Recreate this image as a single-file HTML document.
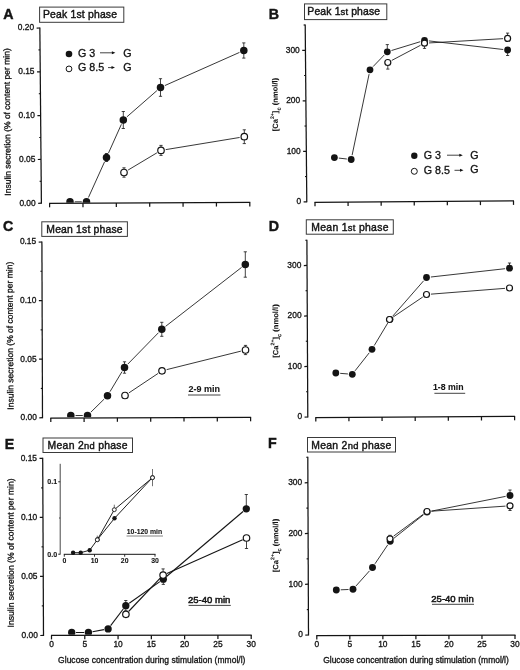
<!DOCTYPE html>
<html><head><meta charset="utf-8"><title>Figure</title>
<style>
html,body{margin:0;padding:0;background:#fff;}
svg{display:block;filter:blur(0.3px);font-family:"Liberation Sans",sans-serif;fill:#141414;}
text{stroke:#141414;stroke-width:0.32px;}
text.b{stroke-width:0.08px;}
text.sb{stroke-width:0.5px;}
text.L{stroke-width:0.45px;}
text.T{stroke-width:0.42px;}
tspan.sb2{stroke-width:0.45px;}
</style></head><body>
<svg width="520" height="670" viewBox="0 0 520 670">
<rect width="520" height="670" fill="#fff"/>
<defs><clipPath id="ca"><rect x="40" y="0" width="220" height="202.7"/></clipPath><clipPath id="cc"><rect x="40" y="215" width="220" height="202.3"/></clipPath><clipPath id="ce"><rect x="40" y="430" width="220" height="204.8"/></clipPath></defs>
<text transform="translate(3.20,18.70) scale(0.93,1)" font-size="15.3" font-weight="bold" class="L">A</text>
<rect x="39.60" y="7.10" width="84.20" height="15.20" fill="#fff" stroke="#3a3a3a" stroke-width="1"/>
<text x="43.00" y="18.30" font-size="10.4" class="T" textLength="74.0" lengthAdjust="spacing">Peak 1<tspan font-size="10.4">st</tspan> phase</text>
<line x1="39.85" y1="27.50" x2="41.40" y2="203.70" stroke="#141414" stroke-width="1.25"/>
<line x1="38.20" y1="203.30" x2="41.40" y2="203.20" stroke="#141414" stroke-width="1.25"/>
<text x="35.70" y="205.60" font-size="8.4" text-anchor="end" font-weight="normal" >0.00</text>
<line x1="39.61" y1="181.30" x2="41.21" y2="181.30" stroke="#141414" stroke-width="1.125"/>
<line x1="37.81" y1="159.50" x2="41.01" y2="159.40" stroke="#141414" stroke-width="1.25"/>
<text x="35.31" y="161.80" font-size="8.4" text-anchor="end" font-weight="normal" >0.05</text>
<line x1="39.22" y1="137.50" x2="40.82" y2="137.50" stroke="#141414" stroke-width="1.125"/>
<line x1="37.42" y1="115.70" x2="40.62" y2="115.60" stroke="#141414" stroke-width="1.25"/>
<text x="34.92" y="118.00" font-size="8.4" text-anchor="end" font-weight="normal" >0.10</text>
<line x1="38.83" y1="93.70" x2="40.43" y2="93.70" stroke="#141414" stroke-width="1.125"/>
<line x1="37.04" y1="71.90" x2="40.24" y2="71.80" stroke="#141414" stroke-width="1.25"/>
<text x="34.54" y="74.20" font-size="8.4" text-anchor="end" font-weight="normal" >0.15</text>
<line x1="38.44" y1="49.90" x2="40.04" y2="49.90" stroke="#141414" stroke-width="1.125"/>
<line x1="36.65" y1="28.10" x2="39.85" y2="28.00" stroke="#141414" stroke-width="1.25"/>
<text x="34.15" y="30.40" font-size="8.4" text-anchor="end" font-weight="normal" >0.20</text>
<line x1="49.10" y1="203.30" x2="250.30" y2="202.40" stroke="#141414" stroke-width="1.25"/>
<line x1="49.60" y1="203.30" x2="49.60" y2="207.30" stroke="#141414" stroke-width="1.25"/>
<line x1="82.97" y1="203.15" x2="82.97" y2="207.15" stroke="#141414" stroke-width="1.25"/>
<line x1="116.33" y1="203.00" x2="116.33" y2="207.00" stroke="#141414" stroke-width="1.25"/>
<line x1="149.70" y1="202.85" x2="149.70" y2="206.85" stroke="#141414" stroke-width="1.25"/>
<line x1="183.07" y1="202.70" x2="183.07" y2="206.70" stroke="#141414" stroke-width="1.25"/>
<line x1="216.43" y1="202.55" x2="216.43" y2="206.55" stroke="#141414" stroke-width="1.25"/>
<line x1="249.80" y1="202.40" x2="249.80" y2="206.40" stroke="#141414" stroke-width="1.25"/>
<text transform="translate(10.10,121.95) rotate(-90.56)" font-size="8.5" text-anchor="middle">Insulin secretion (% of content per min)</text>
<g clip-path="url(#ca)">
<line x1="74.75" y1="201.80" x2="81.75" y2="201.80" stroke="#141414" stroke-width="0.85"/>
<line x1="88.45" y1="197.47" x2="104.55" y2="161.83" stroke="#141414" stroke-width="0.85"/>
<line x1="108.44" y1="153.17" x2="121.36" y2="124.33" stroke="#141414" stroke-width="0.85"/>
<line x1="126.88" y1="116.87" x2="156.92" y2="90.63" stroke="#141414" stroke-width="0.85"/>
<line x1="164.84" y1="85.57" x2="239.46" y2="52.43" stroke="#141414" stroke-width="0.85"/>
<line x1="106.50" y1="153.50" x2="106.50" y2="161.50" stroke="#141414" stroke-width="0.8"/>
<line x1="104.90" y1="153.50" x2="108.10" y2="153.50" stroke="#141414" stroke-width="0.8"/>
<line x1="104.90" y1="161.50" x2="108.10" y2="161.50" stroke="#141414" stroke-width="0.8"/>
<line x1="123.30" y1="111.50" x2="123.30" y2="128.50" stroke="#141414" stroke-width="0.8"/>
<line x1="121.70" y1="111.50" x2="124.90" y2="111.50" stroke="#141414" stroke-width="0.8"/>
<line x1="121.70" y1="128.50" x2="124.90" y2="128.50" stroke="#141414" stroke-width="0.8"/>
<line x1="160.50" y1="78.70" x2="160.50" y2="96.30" stroke="#141414" stroke-width="0.8"/>
<line x1="158.90" y1="78.70" x2="162.10" y2="78.70" stroke="#141414" stroke-width="0.8"/>
<line x1="158.90" y1="96.30" x2="162.10" y2="96.30" stroke="#141414" stroke-width="0.8"/>
<line x1="243.80" y1="42.90" x2="243.80" y2="58.10" stroke="#141414" stroke-width="0.8"/>
<line x1="242.20" y1="42.90" x2="245.40" y2="42.90" stroke="#141414" stroke-width="0.8"/>
<line x1="242.20" y1="58.10" x2="245.40" y2="58.10" stroke="#141414" stroke-width="0.8"/>
<circle cx="70.00" cy="201.80" r="3.75" fill="#141414"/>
<circle cx="86.50" cy="201.80" r="3.75" fill="#141414"/>
<circle cx="106.50" cy="157.50" r="3.75" fill="#141414"/>
<circle cx="123.30" cy="120.00" r="3.75" fill="#141414"/>
<circle cx="160.50" cy="87.50" r="3.75" fill="#141414"/>
<circle cx="243.80" cy="50.50" r="3.75" fill="#141414"/>
</g>
<line x1="128.08" y1="170.06" x2="156.92" y2="152.84" stroke="#141414" stroke-width="0.85"/>
<line x1="165.69" y1="149.63" x2="239.61" y2="137.47" stroke="#141414" stroke-width="0.85"/>
<line x1="124.00" y1="167.80" x2="124.00" y2="177.20" stroke="#141414" stroke-width="0.8"/>
<line x1="122.40" y1="167.80" x2="125.60" y2="167.80" stroke="#141414" stroke-width="0.8"/>
<line x1="122.40" y1="177.20" x2="125.60" y2="177.20" stroke="#141414" stroke-width="0.8"/>
<line x1="161.00" y1="145.40" x2="161.00" y2="155.40" stroke="#141414" stroke-width="0.8"/>
<line x1="159.40" y1="145.40" x2="162.60" y2="145.40" stroke="#141414" stroke-width="0.8"/>
<line x1="159.40" y1="155.40" x2="162.60" y2="155.40" stroke="#141414" stroke-width="0.8"/>
<line x1="244.30" y1="129.80" x2="244.30" y2="143.60" stroke="#141414" stroke-width="0.8"/>
<line x1="242.70" y1="129.80" x2="245.90" y2="129.80" stroke="#141414" stroke-width="0.8"/>
<line x1="242.70" y1="143.60" x2="245.90" y2="143.60" stroke="#141414" stroke-width="0.8"/>
<circle cx="124.00" cy="172.50" r="3.25" fill="#fff" stroke="#141414" stroke-width="1.2"/>
<circle cx="161.00" cy="150.40" r="3.25" fill="#fff" stroke="#141414" stroke-width="1.2"/>
<circle cx="244.30" cy="136.70" r="3.25" fill="#fff" stroke="#141414" stroke-width="1.2"/>
<circle cx="69" cy="54.0" r="3.3" fill="#141414"/>
<text x="78.00" y="57.20" font-size="10.7" text-anchor="start" font-weight="normal" >G 3</text>
<line x1="100.00" y1="52.80" x2="113.40" y2="52.80" stroke="#141414" stroke-width="0.8"/>
<polygon points="115.40,52.80 111.90,51.30 111.90,54.30" fill="#141414"/>
<text x="123.20" y="56.80" font-size="10.7" text-anchor="start" font-weight="normal" >G</text>
<circle cx="69" cy="68.9" r="2.9" fill="#fff" stroke="#141414" stroke-width="1"/>
<text x="78.00" y="71.30" font-size="10.7" text-anchor="start" font-weight="normal" >G 8.5</text>
<line x1="108.00" y1="67.60" x2="113.00" y2="67.60" stroke="#141414" stroke-width="0.8"/>
<polygon points="115.00,67.60 111.50,66.10 111.50,69.10" fill="#141414"/>
<text x="123.20" y="71.00" font-size="10.7" text-anchor="start" font-weight="normal" >G</text>
<text transform="translate(268.70,18.80) scale(0.93,1)" font-size="15.3" font-weight="bold" class="L">B</text>
<rect x="304.50" y="3.90" width="82.30" height="15.70" fill="#fff" stroke="#3a3a3a" stroke-width="1"/>
<text x="307.30" y="15.40" font-size="10.4" class="T" textLength="72.8" lengthAdjust="spacing">Peak 1<tspan font-size="9.4">st</tspan> phase</text>
<line x1="305.20" y1="24.50" x2="306.80" y2="202.30" stroke="#141414" stroke-width="1.25"/>
<line x1="303.60" y1="201.90" x2="306.80" y2="201.80" stroke="#141414" stroke-width="1.25"/>
<text x="301.10" y="204.20" font-size="8.4" text-anchor="end" font-weight="normal" >0</text>
<line x1="304.97" y1="176.54" x2="306.57" y2="176.54" stroke="#141414" stroke-width="1.125"/>
<line x1="303.14" y1="151.39" x2="306.34" y2="151.29" stroke="#141414" stroke-width="1.25"/>
<text x="300.64" y="153.69" font-size="8.4" text-anchor="end" font-weight="normal" >100</text>
<line x1="304.51" y1="126.03" x2="306.11" y2="126.03" stroke="#141414" stroke-width="1.125"/>
<line x1="302.69" y1="100.87" x2="305.89" y2="100.77" stroke="#141414" stroke-width="1.25"/>
<text x="300.19" y="103.17" font-size="8.4" text-anchor="end" font-weight="normal" >200</text>
<line x1="304.06" y1="75.51" x2="305.66" y2="75.51" stroke="#141414" stroke-width="1.125"/>
<line x1="302.23" y1="50.36" x2="305.43" y2="50.26" stroke="#141414" stroke-width="1.25"/>
<text x="299.73" y="52.66" font-size="8.4" text-anchor="end" font-weight="normal" >300</text>
<line x1="303.60" y1="25.00" x2="305.20" y2="25.00" stroke="#141414" stroke-width="1.125"/>
<line x1="314.50" y1="202.30" x2="514.00" y2="200.90" stroke="#141414" stroke-width="1.25"/>
<line x1="315.00" y1="202.30" x2="315.00" y2="206.30" stroke="#141414" stroke-width="1.25"/>
<line x1="348.08" y1="202.07" x2="348.08" y2="206.07" stroke="#141414" stroke-width="1.25"/>
<line x1="381.17" y1="201.83" x2="381.17" y2="205.83" stroke="#141414" stroke-width="1.25"/>
<line x1="414.25" y1="201.60" x2="414.25" y2="205.60" stroke="#141414" stroke-width="1.25"/>
<line x1="447.33" y1="201.37" x2="447.33" y2="205.37" stroke="#141414" stroke-width="1.25"/>
<line x1="480.42" y1="201.13" x2="480.42" y2="205.13" stroke="#141414" stroke-width="1.25"/>
<line x1="513.50" y1="200.90" x2="513.50" y2="204.90" stroke="#141414" stroke-width="1.25"/>
<text transform="translate(277.70,104.60) rotate(-90.5)" font-size="7.6" text-anchor="middle" font-weight="bold" class="b">[Ca<tspan font-size="5.2" dy="-3.9">2+</tspan><tspan dy="3.9">]</tspan><tspan font-size="5.8" dy="3.0">c</tspan><tspan dy="-3.0"> (nmol/l)</tspan></text>
<line x1="338.77" y1="158.09" x2="346.83" y2="159.01" stroke="#141414" stroke-width="0.85"/>
<line x1="352.10" y1="155.19" x2="369.10" y2="74.11" stroke="#141414" stroke-width="0.85"/>
<line x1="373.05" y1="66.63" x2="384.25" y2="54.97" stroke="#141414" stroke-width="0.85"/>
<line x1="391.51" y1="50.51" x2="420.29" y2="41.69" stroke="#141414" stroke-width="0.85"/>
<line x1="428.87" y1="40.90" x2="503.23" y2="49.50" stroke="#141414" stroke-width="0.85"/>
<line x1="387.30" y1="44.60" x2="387.30" y2="51.80" stroke="#141414" stroke-width="0.8"/>
<line x1="385.70" y1="44.60" x2="388.90" y2="44.60" stroke="#141414" stroke-width="0.8"/>
<line x1="507.60" y1="50.00" x2="507.60" y2="55.50" stroke="#141414" stroke-width="0.8"/>
<line x1="506.00" y1="55.50" x2="509.20" y2="55.50" stroke="#141414" stroke-width="0.8"/>
<circle cx="334.40" cy="157.60" r="3.4" fill="#141414"/>
<circle cx="351.20" cy="159.50" r="3.4" fill="#141414"/>
<circle cx="370.00" cy="69.80" r="3.4" fill="#141414"/>
<circle cx="387.30" cy="51.80" r="3.4" fill="#141414"/>
<circle cx="424.50" cy="40.40" r="3.4" fill="#141414"/>
<circle cx="507.60" cy="50.00" r="3.4" fill="#141414"/>
<line x1="391.78" y1="60.41" x2="420.52" y2="45.29" stroke="#141414" stroke-width="0.85"/>
<line x1="428.99" y1="42.94" x2="503.11" y2="38.66" stroke="#141414" stroke-width="0.85"/>
<line x1="387.80" y1="62.50" x2="387.80" y2="69.10" stroke="#141414" stroke-width="0.8"/>
<line x1="386.20" y1="69.10" x2="389.40" y2="69.10" stroke="#141414" stroke-width="0.8"/>
<line x1="424.50" y1="43.20" x2="424.50" y2="48.40" stroke="#141414" stroke-width="0.8"/>
<line x1="422.90" y1="48.40" x2="426.10" y2="48.40" stroke="#141414" stroke-width="0.8"/>
<line x1="507.60" y1="33.10" x2="507.60" y2="38.40" stroke="#141414" stroke-width="0.8"/>
<line x1="506.00" y1="33.10" x2="509.20" y2="33.10" stroke="#141414" stroke-width="0.8"/>
<circle cx="387.80" cy="62.50" r="3.0" fill="#fff" stroke="#141414" stroke-width="1.2"/>
<circle cx="424.50" cy="43.20" r="3.0" fill="#fff" stroke="#141414" stroke-width="1.2"/>
<circle cx="507.60" cy="38.40" r="3.0" fill="#fff" stroke="#141414" stroke-width="1.2"/>
<circle cx="414.3" cy="155.8" r="3.2" fill="#141414"/>
<text x="423.80" y="158.90" font-size="10.7" text-anchor="start" font-weight="normal" >G 3</text>
<line x1="447.00" y1="155.20" x2="460.80" y2="155.20" stroke="#141414" stroke-width="0.8"/>
<polygon points="462.80,155.20 459.30,153.70 459.30,156.70" fill="#141414"/>
<text x="470.20" y="158.60" font-size="10.7" text-anchor="start" font-weight="normal" >G</text>
<circle cx="414.3" cy="171.3" r="3.0" fill="#fff" stroke="#141414" stroke-width="1"/>
<text x="423.80" y="173.70" font-size="10.7" text-anchor="start" font-weight="normal" >G 8.5</text>
<line x1="454.50" y1="170.30" x2="461.50" y2="170.30" stroke="#141414" stroke-width="0.8"/>
<polygon points="463.50,170.30 460.00,168.80 460.00,171.80" fill="#141414"/>
<text x="470.20" y="173.40" font-size="10.7" text-anchor="start" font-weight="normal" >G</text>
<text transform="translate(3.10,231.20) scale(0.93,1)" font-size="15.3" font-weight="bold" class="L">C</text>
<rect x="41.80" y="221.80" width="85.60" height="14.60" fill="#fff" stroke="#3a3a3a" stroke-width="1"/>
<text x="46.30" y="233.20" font-size="10.4" class="T" textLength="76.3" lengthAdjust="spacing">Mean 1<tspan font-size="10.4">st</tspan> phase</text>
<line x1="41.90" y1="241.50" x2="42.50" y2="418.20" stroke="#141414" stroke-width="1.25"/>
<line x1="39.30" y1="417.80" x2="42.50" y2="417.70" stroke="#141414" stroke-width="1.25"/>
<text x="36.80" y="420.10" font-size="8.4" text-anchor="end" font-weight="normal" >0.00</text>
<line x1="40.80" y1="388.42" x2="42.40" y2="388.42" stroke="#141414" stroke-width="1.125"/>
<line x1="39.10" y1="359.23" x2="42.30" y2="359.13" stroke="#141414" stroke-width="1.25"/>
<text x="36.60" y="361.53" font-size="8.4" text-anchor="end" font-weight="normal" >0.05</text>
<line x1="40.60" y1="329.85" x2="42.20" y2="329.85" stroke="#141414" stroke-width="1.125"/>
<line x1="38.90" y1="300.67" x2="42.10" y2="300.57" stroke="#141414" stroke-width="1.25"/>
<text x="36.40" y="302.97" font-size="8.4" text-anchor="end" font-weight="normal" >0.10</text>
<line x1="40.40" y1="271.28" x2="42.00" y2="271.28" stroke="#141414" stroke-width="1.125"/>
<line x1="38.70" y1="242.10" x2="41.90" y2="242.00" stroke="#141414" stroke-width="1.25"/>
<text x="36.20" y="244.40" font-size="8.4" text-anchor="end" font-weight="normal" >0.15</text>
<line x1="50.30" y1="418.00" x2="251.10" y2="417.30" stroke="#141414" stroke-width="1.25"/>
<line x1="50.80" y1="418.00" x2="50.80" y2="422.00" stroke="#141414" stroke-width="1.25"/>
<line x1="84.10" y1="417.88" x2="84.10" y2="421.88" stroke="#141414" stroke-width="1.25"/>
<line x1="117.40" y1="417.77" x2="117.40" y2="421.77" stroke="#141414" stroke-width="1.25"/>
<line x1="150.70" y1="417.65" x2="150.70" y2="421.65" stroke="#141414" stroke-width="1.25"/>
<line x1="184.00" y1="417.53" x2="184.00" y2="421.53" stroke="#141414" stroke-width="1.25"/>
<line x1="217.30" y1="417.42" x2="217.30" y2="421.42" stroke="#141414" stroke-width="1.25"/>
<line x1="250.60" y1="417.30" x2="250.60" y2="421.30" stroke="#141414" stroke-width="1.25"/>
<text transform="translate(12.90,335.75) rotate(-90.46)" font-size="8.54" text-anchor="middle">Insulin secretion (% of content per min)</text>
<g clip-path="url(#cc)">
<line x1="75.55" y1="415.50" x2="82.75" y2="415.50" stroke="#141414" stroke-width="0.85"/>
<line x1="90.88" y1="412.17" x2="104.12" y2="399.13" stroke="#141414" stroke-width="0.85"/>
<line x1="109.95" y1="391.73" x2="122.05" y2="371.57" stroke="#141414" stroke-width="0.85"/>
<line x1="127.82" y1="364.10" x2="158.48" y2="332.70" stroke="#141414" stroke-width="0.85"/>
<line x1="165.55" y1="326.39" x2="241.55" y2="267.41" stroke="#141414" stroke-width="0.85"/>
<line x1="124.50" y1="361.80" x2="124.50" y2="373.20" stroke="#141414" stroke-width="0.8"/>
<line x1="122.90" y1="361.80" x2="126.10" y2="361.80" stroke="#141414" stroke-width="0.8"/>
<line x1="122.90" y1="373.20" x2="126.10" y2="373.20" stroke="#141414" stroke-width="0.8"/>
<line x1="161.80" y1="322.30" x2="161.80" y2="336.30" stroke="#141414" stroke-width="0.8"/>
<line x1="160.20" y1="322.30" x2="163.40" y2="322.30" stroke="#141414" stroke-width="0.8"/>
<line x1="160.20" y1="336.30" x2="163.40" y2="336.30" stroke="#141414" stroke-width="0.8"/>
<line x1="245.30" y1="251.80" x2="245.30" y2="277.20" stroke="#141414" stroke-width="0.8"/>
<line x1="243.70" y1="251.80" x2="246.90" y2="251.80" stroke="#141414" stroke-width="0.8"/>
<line x1="243.70" y1="277.20" x2="246.90" y2="277.20" stroke="#141414" stroke-width="0.8"/>
<circle cx="70.80" cy="415.50" r="3.75" fill="#141414"/>
<circle cx="87.50" cy="415.50" r="3.75" fill="#141414"/>
<circle cx="107.50" cy="395.80" r="3.75" fill="#141414"/>
<circle cx="124.50" cy="367.50" r="3.75" fill="#141414"/>
<circle cx="161.80" cy="329.30" r="3.75" fill="#141414"/>
<circle cx="245.30" cy="264.50" r="3.75" fill="#141414"/>
</g>
<line x1="128.95" y1="392.86" x2="158.05" y2="373.44" stroke="#141414" stroke-width="0.85"/>
<line x1="166.61" y1="369.65" x2="240.89" y2="351.15" stroke="#141414" stroke-width="0.85"/>
<line x1="245.50" y1="345.40" x2="245.50" y2="354.60" stroke="#141414" stroke-width="0.8"/>
<line x1="243.90" y1="345.40" x2="247.10" y2="345.40" stroke="#141414" stroke-width="0.8"/>
<line x1="243.90" y1="354.60" x2="247.10" y2="354.60" stroke="#141414" stroke-width="0.8"/>
<circle cx="125.00" cy="395.50" r="3.25" fill="#fff" stroke="#141414" stroke-width="1.2"/>
<circle cx="162.00" cy="370.80" r="3.25" fill="#fff" stroke="#141414" stroke-width="1.2"/>
<circle cx="245.50" cy="350.00" r="3.25" fill="#fff" stroke="#141414" stroke-width="1.2"/>
<text x="204.25" y="392.00" font-size="9" text-anchor="middle" font-weight="bold" class="b" textLength="31.5" lengthAdjust="spacingAndGlyphs" >2-9 min</text>
<line x1="188.00" y1="395.00" x2="220.50" y2="395.00" stroke="#141414" stroke-width="0.8"/>
<text transform="translate(268.70,230.90) scale(0.93,1)" font-size="15.3" font-weight="bold" class="L">D</text>
<rect x="306.30" y="219.80" width="87.00" height="14.40" fill="#fff" stroke="#3a3a3a" stroke-width="1"/>
<text x="311.30" y="230.60" font-size="10.4" class="T" textLength="77.2" lengthAdjust="spacing">Mean 1<tspan font-size="9.4">st</tspan> phase</text>
<line x1="306.90" y1="239.70" x2="307.80" y2="417.50" stroke="#141414" stroke-width="1.25"/>
<line x1="304.60" y1="417.10" x2="307.80" y2="417.00" stroke="#141414" stroke-width="1.25"/>
<text x="302.10" y="419.40" font-size="8.4" text-anchor="end" font-weight="normal" >0</text>
<line x1="306.07" y1="391.74" x2="307.67" y2="391.74" stroke="#141414" stroke-width="1.125"/>
<line x1="304.34" y1="366.59" x2="307.54" y2="366.49" stroke="#141414" stroke-width="1.25"/>
<text x="301.84" y="368.89" font-size="8.4" text-anchor="end" font-weight="normal" >100</text>
<line x1="305.81" y1="341.23" x2="307.41" y2="341.23" stroke="#141414" stroke-width="1.125"/>
<line x1="304.09" y1="316.07" x2="307.29" y2="315.97" stroke="#141414" stroke-width="1.25"/>
<text x="301.59" y="318.37" font-size="8.4" text-anchor="end" font-weight="normal" >200</text>
<line x1="305.56" y1="290.71" x2="307.16" y2="290.71" stroke="#141414" stroke-width="1.125"/>
<line x1="303.83" y1="265.56" x2="307.03" y2="265.46" stroke="#141414" stroke-width="1.25"/>
<text x="301.33" y="267.86" font-size="8.4" text-anchor="end" font-weight="normal" >300</text>
<line x1="305.30" y1="240.20" x2="306.90" y2="240.20" stroke="#141414" stroke-width="1.125"/>
<line x1="315.30" y1="417.50" x2="515.10" y2="416.30" stroke="#141414" stroke-width="1.25"/>
<line x1="315.80" y1="417.50" x2="315.80" y2="421.50" stroke="#141414" stroke-width="1.25"/>
<line x1="348.93" y1="417.30" x2="348.93" y2="421.30" stroke="#141414" stroke-width="1.25"/>
<line x1="382.07" y1="417.10" x2="382.07" y2="421.10" stroke="#141414" stroke-width="1.25"/>
<line x1="415.20" y1="416.90" x2="415.20" y2="420.90" stroke="#141414" stroke-width="1.25"/>
<line x1="448.33" y1="416.70" x2="448.33" y2="420.70" stroke="#141414" stroke-width="1.25"/>
<line x1="481.47" y1="416.50" x2="481.47" y2="420.50" stroke="#141414" stroke-width="1.25"/>
<line x1="514.60" y1="416.30" x2="514.60" y2="420.30" stroke="#141414" stroke-width="1.25"/>
<text transform="translate(278.20,331.00) rotate(-90.25)" font-size="7.6" text-anchor="middle" font-weight="bold" class="b">[Ca<tspan font-size="5.2" dy="-3.9">2+</tspan><tspan dy="3.9">]</tspan><tspan font-size="5.8" dy="3.0">c</tspan><tspan dy="-3.0"> (nmol/l)</tspan></text>
<line x1="340.19" y1="373.35" x2="347.91" y2="373.95" stroke="#141414" stroke-width="0.85"/>
<line x1="355.02" y1="370.84" x2="369.28" y2="352.76" stroke="#141414" stroke-width="0.85"/>
<line x1="374.26" y1="345.53" x2="387.74" y2="323.07" stroke="#141414" stroke-width="0.85"/>
<line x1="392.89" y1="315.99" x2="423.61" y2="280.81" stroke="#141414" stroke-width="0.85"/>
<line x1="430.87" y1="277.01" x2="505.13" y2="268.69" stroke="#141414" stroke-width="0.85"/>
<line x1="509.50" y1="263.00" x2="509.50" y2="268.20" stroke="#141414" stroke-width="0.8"/>
<line x1="507.90" y1="263.00" x2="511.10" y2="263.00" stroke="#141414" stroke-width="0.8"/>
<circle cx="335.80" cy="373.00" r="3.4" fill="#141414"/>
<circle cx="352.30" cy="374.30" r="3.4" fill="#141414"/>
<circle cx="372.00" cy="349.30" r="3.4" fill="#141414"/>
<circle cx="390.00" cy="319.30" r="3.4" fill="#141414"/>
<circle cx="426.50" cy="277.50" r="3.4" fill="#141414"/>
<circle cx="509.50" cy="268.20" r="3.4" fill="#141414"/>
<line x1="393.23" y1="316.98" x2="422.77" y2="297.02" stroke="#141414" stroke-width="0.85"/>
<line x1="430.99" y1="294.15" x2="505.01" y2="288.35" stroke="#141414" stroke-width="0.85"/>
<circle cx="389.50" cy="319.50" r="3.0" fill="#fff" stroke="#141414" stroke-width="1.2"/>
<circle cx="426.50" cy="294.50" r="3.0" fill="#fff" stroke="#141414" stroke-width="1.2"/>
<circle cx="509.50" cy="288.00" r="3.0" fill="#fff" stroke="#141414" stroke-width="1.2"/>
<text x="448.30" y="390.40" font-size="9" text-anchor="middle" font-weight="bold" class="b" textLength="30.6" lengthAdjust="spacingAndGlyphs" >1-8 min</text>
<line x1="434.40" y1="393.30" x2="465.20" y2="393.30" stroke="#141414" stroke-width="0.8"/>
<text transform="translate(4.80,448.70) scale(0.93,1)" font-size="15.3" font-weight="bold" class="L">E</text>
<rect x="43.00" y="438.00" width="89.50" height="14.50" fill="#fff" stroke="#3a3a3a" stroke-width="1"/>
<text x="47.60" y="449.30" font-size="10.4" class="T" textLength="80" lengthAdjust="spacing">Mean 2<tspan font-size="9.4">nd</tspan> phase</text>
<line x1="42.70" y1="457.80" x2="43.50" y2="635.90" stroke="#141414" stroke-width="1.25"/>
<line x1="40.30" y1="635.50" x2="43.50" y2="635.40" stroke="#141414" stroke-width="1.25"/>
<text x="37.80" y="637.80" font-size="8.4" text-anchor="end" font-weight="normal" >0.00</text>
<line x1="41.77" y1="605.88" x2="43.37" y2="605.88" stroke="#141414" stroke-width="1.125"/>
<line x1="40.03" y1="576.47" x2="43.23" y2="576.37" stroke="#141414" stroke-width="1.25"/>
<text x="37.53" y="578.77" font-size="8.4" text-anchor="end" font-weight="normal" >0.05</text>
<line x1="41.50" y1="546.85" x2="43.10" y2="546.85" stroke="#141414" stroke-width="1.125"/>
<line x1="39.77" y1="517.43" x2="42.97" y2="517.33" stroke="#141414" stroke-width="1.25"/>
<text x="37.27" y="519.73" font-size="8.4" text-anchor="end" font-weight="normal" >0.10</text>
<line x1="41.23" y1="487.82" x2="42.83" y2="487.82" stroke="#141414" stroke-width="1.125"/>
<line x1="39.50" y1="458.40" x2="42.70" y2="458.30" stroke="#141414" stroke-width="1.25"/>
<text x="37.00" y="460.70" font-size="8.4" text-anchor="end" font-weight="normal" >0.15</text>
<line x1="51.00" y1="635.40" x2="251.70" y2="635.00" stroke="#141414" stroke-width="1.25"/>
<line x1="51.50" y1="635.40" x2="51.50" y2="639.40" stroke="#141414" stroke-width="1.25"/>
<text x="51.50" y="647.40" font-size="8.4" text-anchor="middle" font-weight="normal" >0</text>
<line x1="84.78" y1="635.33" x2="84.78" y2="639.33" stroke="#141414" stroke-width="1.25"/>
<text x="84.78" y="647.40" font-size="8.4" text-anchor="middle" font-weight="normal" >5</text>
<line x1="118.07" y1="635.27" x2="118.07" y2="639.27" stroke="#141414" stroke-width="1.25"/>
<text x="118.07" y="647.40" font-size="8.4" text-anchor="middle" font-weight="normal" >10</text>
<line x1="151.35" y1="635.20" x2="151.35" y2="639.20" stroke="#141414" stroke-width="1.25"/>
<text x="151.35" y="647.40" font-size="8.4" text-anchor="middle" font-weight="normal" >15</text>
<line x1="184.63" y1="635.13" x2="184.63" y2="639.13" stroke="#141414" stroke-width="1.25"/>
<text x="184.63" y="647.40" font-size="8.4" text-anchor="middle" font-weight="normal" >20</text>
<line x1="217.92" y1="635.07" x2="217.92" y2="639.07" stroke="#141414" stroke-width="1.25"/>
<text x="217.92" y="647.40" font-size="8.4" text-anchor="middle" font-weight="normal" >25</text>
<line x1="251.20" y1="635.00" x2="251.20" y2="639.00" stroke="#141414" stroke-width="1.25"/>
<text x="251.20" y="647.40" font-size="8.4" text-anchor="middle" font-weight="normal" >30</text>
<text transform="translate(13.65,552.90) rotate(-90.12)" font-size="8.6" text-anchor="middle">Insulin secretion (% of content per min)</text>
<text x="151.75" y="662.80" font-size="8.5" text-anchor="middle" font-weight="normal" textLength="187.3" lengthAdjust="spacing">Glucose concentration during stimulation (mmol/l)</text>
<g clip-path="url(#ce)">
<line x1="75.90" y1="632.50" x2="84.20" y2="632.50" stroke="#141414" stroke-width="1.1"/>
<line x1="92.53" y1="631.74" x2="103.97" y2="629.66" stroke="#141414" stroke-width="1.1"/>
<line x1="110.65" y1="625.56" x2="123.25" y2="609.04" stroke="#141414" stroke-width="1.1"/>
<line x1="129.23" y1="603.28" x2="159.87" y2="581.62" stroke="#141414" stroke-width="1.1"/>
<line x1="166.50" y1="576.48" x2="243.10" y2="511.52" stroke="#141414" stroke-width="1.1"/>
<line x1="125.80" y1="600.50" x2="125.80" y2="610.90" stroke="#141414" stroke-width="0.8"/>
<line x1="124.20" y1="600.50" x2="127.40" y2="600.50" stroke="#141414" stroke-width="0.8"/>
<line x1="124.20" y1="610.90" x2="127.40" y2="610.90" stroke="#141414" stroke-width="0.8"/>
<line x1="163.30" y1="579.20" x2="163.30" y2="584.40" stroke="#141414" stroke-width="0.8"/>
<line x1="161.70" y1="584.40" x2="164.90" y2="584.40" stroke="#141414" stroke-width="0.8"/>
<line x1="246.30" y1="494.50" x2="246.30" y2="508.80" stroke="#141414" stroke-width="0.8"/>
<line x1="244.70" y1="494.50" x2="247.90" y2="494.50" stroke="#141414" stroke-width="0.8"/>
<circle cx="71.70" cy="632.50" r="3.65" fill="#141414"/>
<circle cx="88.40" cy="632.50" r="3.65" fill="#141414"/>
<circle cx="108.10" cy="628.90" r="3.65" fill="#141414"/>
<circle cx="125.80" cy="605.70" r="3.65" fill="#141414"/>
<circle cx="163.30" cy="579.20" r="3.65" fill="#141414"/>
<circle cx="246.30" cy="508.80" r="3.65" fill="#141414"/>
</g>
<line x1="128.79" y1="611.25" x2="160.21" y2="578.15" stroke="#141414" stroke-width="1.1"/>
<line x1="166.94" y1="573.39" x2="242.66" y2="539.71" stroke="#141414" stroke-width="1.1"/>
<line x1="163.10" y1="568.90" x2="163.10" y2="575.10" stroke="#141414" stroke-width="0.8"/>
<line x1="161.50" y1="568.90" x2="164.70" y2="568.90" stroke="#141414" stroke-width="0.8"/>
<line x1="246.50" y1="538.00" x2="246.50" y2="548.50" stroke="#141414" stroke-width="0.8"/>
<line x1="244.90" y1="548.50" x2="248.10" y2="548.50" stroke="#141414" stroke-width="0.8"/>
<circle cx="125.90" cy="614.30" r="3.25" fill="#fff" stroke="#141414" stroke-width="1.2"/>
<circle cx="163.10" cy="575.10" r="3.25" fill="#fff" stroke="#141414" stroke-width="1.2"/>
<circle cx="246.50" cy="538.00" r="3.25" fill="#fff" stroke="#141414" stroke-width="1.2"/>
<text x="209.15" y="602.70" font-size="9.4" text-anchor="middle" font-weight="normal" textLength="42.3" lengthAdjust="spacingAndGlyphs" class="sb">25-40 min</text>
<line x1="188.60" y1="605.40" x2="230.80" y2="605.40" stroke="#141414" stroke-width="0.8"/>
<line x1="60.20" y1="463.80" x2="60.20" y2="554.60" stroke="#333" stroke-width="0.9"/>
<line x1="58.20" y1="481.80" x2="60.20" y2="481.80" stroke="#141414" stroke-width="0.9"/>
<line x1="58.20" y1="554.20" x2="60.20" y2="554.20" stroke="#141414" stroke-width="0.9"/>
<line x1="59.10" y1="518.00" x2="60.20" y2="518.00" stroke="#141414" stroke-width="0.8"/>
<text x="57.20" y="484.20" font-size="7.1" text-anchor="end" font-weight="bold" class="b" >0.1</text>
<text x="57.20" y="556.80" font-size="7.1" text-anchor="end" font-weight="bold" class="b" >0.0</text>
<line x1="63.80" y1="554.30" x2="155.50" y2="554.30" stroke="#141414" stroke-width="1.0"/>
<line x1="64.30" y1="554.30" x2="64.30" y2="556.70" stroke="#141414" stroke-width="0.9"/>
<text x="64.30" y="562.90" font-size="6.9" text-anchor="middle" font-weight="bold" class="b" >0</text>
<line x1="94.50" y1="554.30" x2="94.50" y2="556.70" stroke="#141414" stroke-width="0.9"/>
<text x="94.50" y="562.90" font-size="6.9" text-anchor="middle" font-weight="bold" class="b" >10</text>
<line x1="124.70" y1="554.30" x2="124.70" y2="556.70" stroke="#141414" stroke-width="0.9"/>
<text x="124.70" y="562.90" font-size="6.9" text-anchor="middle" font-weight="bold" class="b" >20</text>
<line x1="155.00" y1="554.30" x2="155.00" y2="556.70" stroke="#141414" stroke-width="0.9"/>
<text x="155.00" y="562.90" font-size="6.9" text-anchor="middle" font-weight="bold" class="b" >30</text>
<polyline points="73.10,552.70 80.70,552.70 89.70,550.20 97.50,539.50 114.50,518.30 152.50,477.50" fill="none" stroke="#141414" stroke-width="0.95"/>
<circle cx="73.10" cy="552.70" r="2.2" fill="#141414"/>
<circle cx="80.70" cy="552.70" r="2.2" fill="#141414"/>
<circle cx="89.70" cy="550.20" r="2.2" fill="#141414"/>
<circle cx="97.50" cy="539.50" r="2.2" fill="#141414"/>
<circle cx="114.50" cy="518.30" r="2.2" fill="#141414"/>
<circle cx="152.50" cy="477.50" r="2.2" fill="#141414"/>
<polyline points="97.30,539.80 114.30,509.70 152.50,477.70" fill="none" stroke="#141414" stroke-width="0.95"/>
<line x1="97.30" y1="535.60" x2="97.30" y2="539.80" stroke="#333" stroke-width="0.7"/>
<line x1="114.30" y1="504.70" x2="114.30" y2="509.70" stroke="#333" stroke-width="0.7"/>
<line x1="152.50" y1="469.00" x2="152.50" y2="486.20" stroke="#333" stroke-width="0.7"/>
<circle cx="97.30" cy="539.80" r="1.95" fill="#fff" stroke="#141414" stroke-width="0.9"/>
<circle cx="114.30" cy="509.70" r="1.95" fill="#fff" stroke="#141414" stroke-width="0.9"/>
<circle cx="152.50" cy="477.70" r="1.95" fill="#fff" stroke="#141414" stroke-width="0.9"/>
<text x="144.50" y="534.40" font-size="6.4" text-anchor="middle" font-weight="bold" class="b" textLength="35.4" lengthAdjust="spacingAndGlyphs" >10-120 min</text>
<line x1="126.50" y1="536.00" x2="163.00" y2="536.00" stroke="#777" stroke-width="0.9"/>
<text transform="translate(267.90,448.00) scale(0.93,1)" font-size="15.3" font-weight="bold" class="L">F</text>
<rect x="307.50" y="437.50" width="88.00" height="14.50" fill="#fff" stroke="#3a3a3a" stroke-width="1"/>
<text x="311.30" y="448.80" font-size="10.4" class="T" textLength="80" lengthAdjust="spacing">Mean 2<tspan font-size="9.4">nd</tspan> phase</text>
<line x1="307.80" y1="456.80" x2="308.50" y2="635.50" stroke="#141414" stroke-width="1.25"/>
<line x1="305.30" y1="635.10" x2="308.50" y2="635.00" stroke="#141414" stroke-width="1.25"/>
<text x="302.80" y="637.40" font-size="8.4" text-anchor="end" font-weight="normal" >0</text>
<line x1="306.80" y1="609.61" x2="308.40" y2="609.61" stroke="#141414" stroke-width="1.125"/>
<line x1="305.10" y1="584.33" x2="308.30" y2="584.23" stroke="#141414" stroke-width="1.25"/>
<text x="302.60" y="586.63" font-size="8.4" text-anchor="end" font-weight="normal" >100</text>
<line x1="306.60" y1="558.84" x2="308.20" y2="558.84" stroke="#141414" stroke-width="1.125"/>
<line x1="304.90" y1="533.56" x2="308.10" y2="533.46" stroke="#141414" stroke-width="1.25"/>
<text x="302.40" y="535.86" font-size="8.4" text-anchor="end" font-weight="normal" >200</text>
<line x1="306.40" y1="508.07" x2="308.00" y2="508.07" stroke="#141414" stroke-width="1.125"/>
<line x1="304.70" y1="482.79" x2="307.90" y2="482.69" stroke="#141414" stroke-width="1.25"/>
<text x="302.20" y="485.09" font-size="8.4" text-anchor="end" font-weight="normal" >300</text>
<line x1="306.20" y1="457.30" x2="307.80" y2="457.30" stroke="#141414" stroke-width="1.125"/>
<line x1="316.30" y1="635.50" x2="515.50" y2="635.00" stroke="#141414" stroke-width="1.25"/>
<line x1="316.80" y1="635.50" x2="316.80" y2="639.50" stroke="#141414" stroke-width="1.25"/>
<text x="316.80" y="647.20" font-size="8.4" text-anchor="middle" font-weight="normal" >0</text>
<line x1="349.83" y1="635.42" x2="349.83" y2="639.42" stroke="#141414" stroke-width="1.25"/>
<text x="349.83" y="647.20" font-size="8.4" text-anchor="middle" font-weight="normal" >5</text>
<line x1="382.87" y1="635.33" x2="382.87" y2="639.33" stroke="#141414" stroke-width="1.25"/>
<text x="382.87" y="647.20" font-size="8.4" text-anchor="middle" font-weight="normal" >10</text>
<line x1="415.90" y1="635.25" x2="415.90" y2="639.25" stroke="#141414" stroke-width="1.25"/>
<text x="415.90" y="647.20" font-size="8.4" text-anchor="middle" font-weight="normal" >15</text>
<line x1="448.93" y1="635.17" x2="448.93" y2="639.17" stroke="#141414" stroke-width="1.25"/>
<text x="448.93" y="647.20" font-size="8.4" text-anchor="middle" font-weight="normal" >20</text>
<line x1="481.97" y1="635.08" x2="481.97" y2="639.08" stroke="#141414" stroke-width="1.25"/>
<text x="481.97" y="647.20" font-size="8.4" text-anchor="middle" font-weight="normal" >25</text>
<line x1="515.00" y1="635.00" x2="515.00" y2="639.00" stroke="#141414" stroke-width="1.25"/>
<text x="515.00" y="647.20" font-size="8.4" text-anchor="middle" font-weight="normal" >30</text>
<text transform="translate(278.20,545.50) rotate(-90.2)" font-size="7.6" text-anchor="middle" font-weight="bold" class="b">[Ca<tspan font-size="5.2" dy="-3.9">2+</tspan><tspan dy="3.9">]</tspan><tspan font-size="5.8" dy="3.0">c</tspan><tspan dy="-3.0"> (nmol/l)</tspan></text>
<text x="416.00" y="663.00" font-size="8.45" text-anchor="middle" font-weight="normal" textLength="185.6" lengthAdjust="spacing">Glucose concentration during stimulation (mmol/l)</text>
<line x1="340.75" y1="589.81" x2="348.55" y2="589.49" stroke="#141414" stroke-width="0.85"/>
<line x1="355.97" y1="585.98" x2="369.53" y2="570.82" stroke="#141414" stroke-width="0.85"/>
<line x1="374.98" y1="563.81" x2="387.72" y2="544.89" stroke="#141414" stroke-width="0.85"/>
<line x1="393.69" y1="538.43" x2="423.51" y2="514.77" stroke="#141414" stroke-width="0.85"/>
<line x1="431.36" y1="511.13" x2="505.64" y2="496.37" stroke="#141414" stroke-width="0.85"/>
<line x1="510.00" y1="490.00" x2="510.00" y2="495.50" stroke="#141414" stroke-width="0.8"/>
<line x1="508.40" y1="490.00" x2="511.60" y2="490.00" stroke="#141414" stroke-width="0.8"/>
<circle cx="336.30" cy="590.00" r="3.45" fill="#141414"/>
<circle cx="353.00" cy="589.30" r="3.45" fill="#141414"/>
<circle cx="372.50" cy="567.50" r="3.45" fill="#141414"/>
<circle cx="390.20" cy="541.20" r="3.45" fill="#141414"/>
<circle cx="427.00" cy="512.00" r="3.45" fill="#141414"/>
<circle cx="510.00" cy="495.50" r="3.45" fill="#141414"/>
<line x1="393.62" y1="536.13" x2="423.38" y2="514.17" stroke="#141414" stroke-width="0.85"/>
<line x1="431.49" y1="511.19" x2="505.51" y2="506.11" stroke="#141414" stroke-width="0.85"/>
<line x1="390.00" y1="535.30" x2="390.00" y2="538.80" stroke="#141414" stroke-width="0.8"/>
<line x1="388.40" y1="535.30" x2="391.60" y2="535.30" stroke="#141414" stroke-width="0.8"/>
<line x1="510.00" y1="505.80" x2="510.00" y2="510.50" stroke="#141414" stroke-width="0.8"/>
<line x1="508.40" y1="510.50" x2="511.60" y2="510.50" stroke="#141414" stroke-width="0.8"/>
<circle cx="390.00" cy="538.80" r="3.0" fill="#fff" stroke="#141414" stroke-width="1.2"/>
<circle cx="427.00" cy="511.50" r="3.0" fill="#fff" stroke="#141414" stroke-width="1.2"/>
<circle cx="510.00" cy="505.80" r="3.0" fill="#fff" stroke="#141414" stroke-width="1.2"/>
<text x="452.50" y="602.20" font-size="9.4" text-anchor="middle" font-weight="normal" textLength="42.4" lengthAdjust="spacingAndGlyphs" class="sb">25-40 min</text>
<line x1="432.00" y1="604.30" x2="474.00" y2="604.30" stroke="#141414" stroke-width="0.8"/>
</svg>
</body></html>
